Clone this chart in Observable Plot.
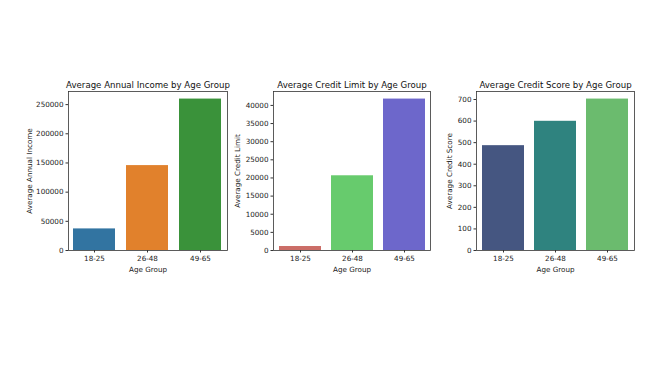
<!DOCTYPE html>
<html>
<head>
<meta charset="utf-8">
<script src="https://cdn.jsdelivr.net/npm/d3@7"></script>
<script src="https://cdn.jsdelivr.net/npm/@observablehq/plot@0.6"></script>
<style>
  html, body { margin: 0; padding: 0; background: #fff; }
  #wrap { position: relative; width: 650px; height: 366px; overflow: hidden; background: #fff; }
  #wrap svg { position: absolute; top: 0; }
</style>
</head>
<body>
<div id="wrap"></div>
<script>
const ageGroups = ["18-25", "26-48", "49-65"];

const incomeValues = [37000, 145500, 259500];
const creditLimitValues = [1100, 20600, 41750];
const creditScoreValues = [486, 599, 702];

const incomeTicks = [0, 50000, 100000, 150000, 200000, 250000];
const creditLimitTicks = [0, 5000, 10000, 15000, 20000, 25000, 30000, 35000, 40000];
const creditScoreTicks = [0, 100, 200, 300, 400, 500, 600, 700];

const titles = [
  "Average Annual Income by Age Group",
  "Average Credit Limit by Age Group",
  "Average Credit Score by Age Group"
];
const yLabels = ["Average Annual Income", "Average Credit Limit", "Average Credit Score"];
const xLabel = "Age Group";

const palette1 = ["#3274a1", "#e1812c", "#3a923a"];
const palette2 = ["#cb6d67", "#67cb6d", "#6d67cb"];
const palette3 = ["#455681", "#2f837f", "#6bbb6e"];

const wrap = document.getElementById("wrap");

function panel({values, ticks, title, ylabel, colors, left, marginLeft, labelOffset, frameWidth}) {
  const data = ageGroups.map((g, i) => ({group: g, value: values[i]}));
  const marginRight = 6;
  const chart = Plot.plot({
    width: marginLeft + frameWidth + marginRight,
    height: 366,
    marginTop: 91,
    marginBottom: 116,
    marginLeft,
    marginRight,
    style: {fontFamily: "DejaVu Sans", fontSize: "7.2px", color: "#1a1a1a", background: "transparent"},
    x: {type: "band", domain: ageGroups, paddingInner: 0.2, paddingOuter: 0.1, label: null},
    y: {domain: [0, 1.05 * d3.max(values)], label: null},
    color: {domain: ageGroups, range: colors},
    marks: [
      Plot.barY(data, {x: "group", y: "value", fill: "group"}),
      Plot.frame({stroke: "#333", strokeWidth: 0.8}),
      Plot.axisX({tickSize: 2.5, tickPadding: 2.5, label: xLabel, labelAnchor: "center", labelOffset: 21, labelArrow: "none", stroke: "#333"}),
      Plot.axisY({ticks, tickSize: 2.5, tickPadding: 2.5, tickFormat: d3.format("d"), label: ylabel, labelAnchor: "center", labelOffset, labelArrow: "none", stroke: "#333"}),
      Plot.text([title], {frameAnchor: "top", dy: -4, lineAnchor: "bottom", fontSize: 8.6, fill: "#111", text: d => d})
    ]
  });
  chart.style.left = left + "px";
  wrap.appendChild(chart);
}

panel({values: incomeValues, ticks: incomeTicks, title: titles[0], ylabel: yLabels[0], colors: palette1,
       left: 0, marginLeft: 68, labelOffset: 42, frameWidth: 159});
panel({values: creditLimitValues, ticks: creditLimitTicks, title: titles[1], ylabel: yLabels[1], colors: palette2,
       left: 232, marginLeft: 41, labelOffset: 39, frameWidth: 157});
panel({values: creditScoreValues, ticks: creditScoreTicks, title: titles[2], ylabel: yLabels[2], colors: palette3,
       left: 436, marginLeft: 40, labelOffset: 30, frameWidth: 158});
</script>
</body>
</html>
